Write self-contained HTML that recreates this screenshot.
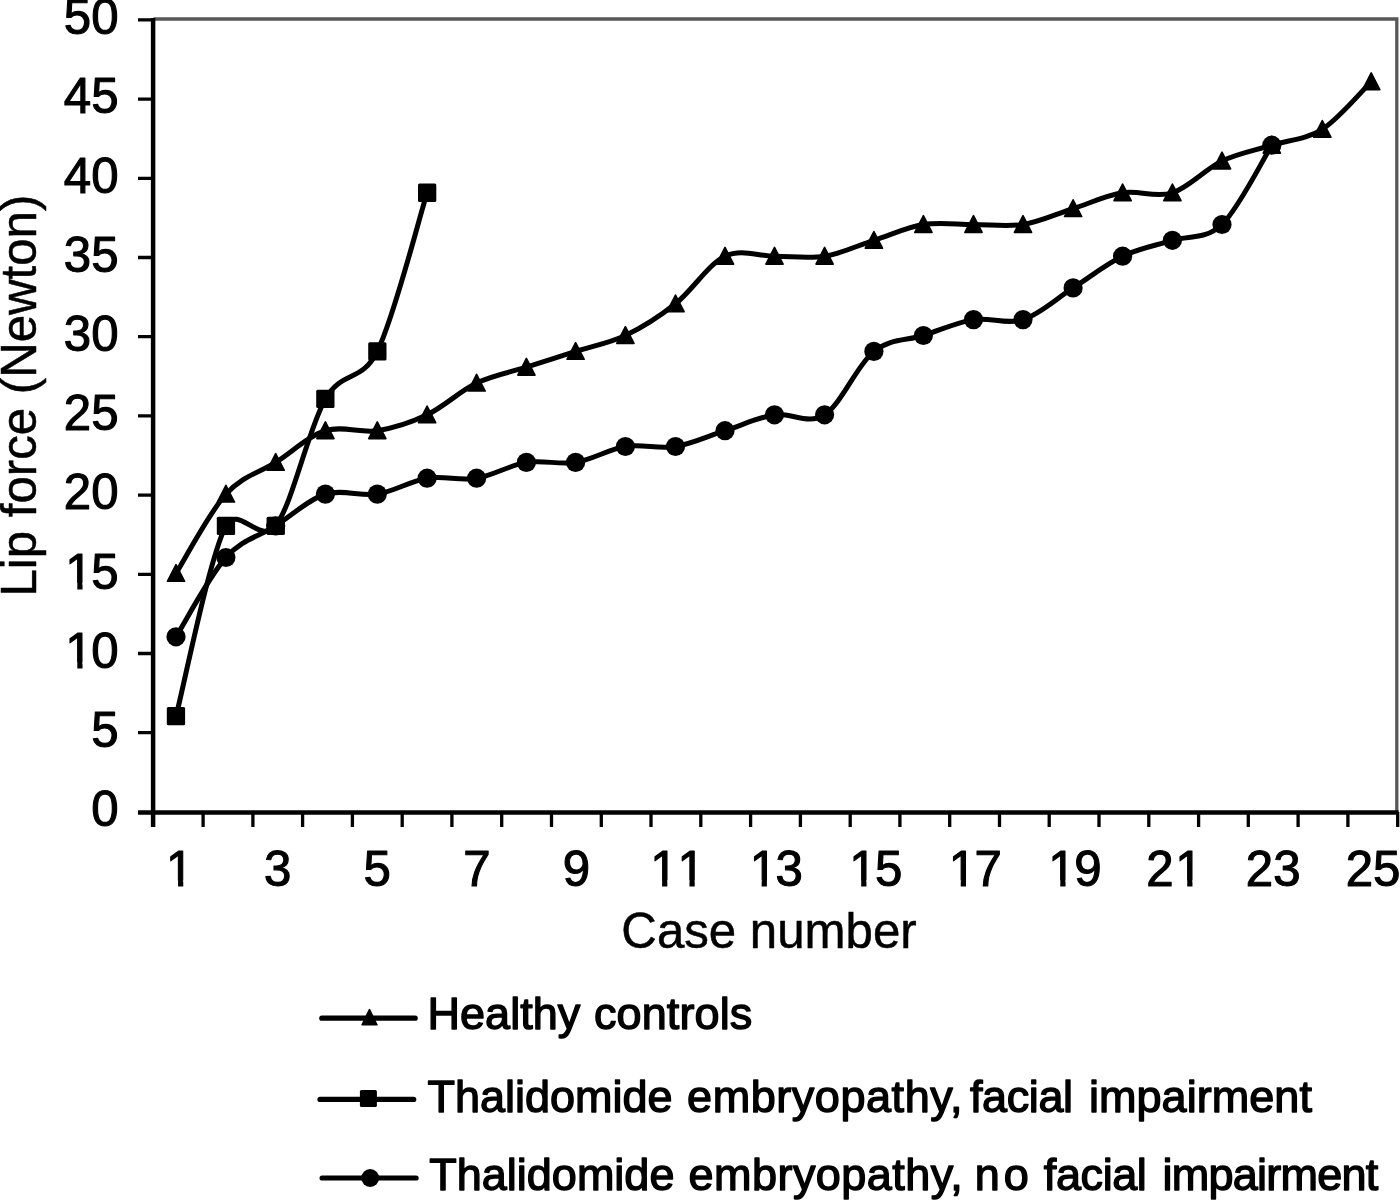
<!DOCTYPE html>
<html><head><meta charset="utf-8"><title>Lip force chart</title>
<style>html,body{margin:0;padding:0;background:#fff}svg{display:block}text{font-family:"Liberation Sans",Arial,Helvetica,sans-serif;fill:#000}</style></head><body>
<svg width="1400" height="1204" viewBox="0 0 1400 1204">
<rect width="1400" height="1204" fill="#fff"/>
<path d="M153.4 19H1396.8V812" fill="none" stroke="#585858" stroke-width="3.3"/>
<path d="M153.1 18V827" fill="none" stroke="#000" stroke-width="4.5"/>
<path d="M138 812.4H1398.5" fill="none" stroke="#000" stroke-width="4.5"/>
<path d="M138 732.7H153.4M138 653.5H153.4M138 574.3H153.4M138 495.1H153.4M138 415.9H153.4M138 336.7H153.4M138 257.5H153.4M138 178.3H153.4M138 99.1H153.4M138 19.9H153.4" fill="none" stroke="#000" stroke-width="3.3"/>
<path d="M203.1 812V827M252.9 812V827M302.6 812V827M352.4 812V827M402.2 812V827M451.9 812V827M501.7 812V827M551.5 812V827M601.3 812V827M651.0 812V827M700.8 812V827M750.6 812V827M800.4 812V827M850.2 812V827M899.9 812V827M949.7 812V827M999.5 812V827M1049.2 812V827M1099.0 812V827M1148.8 812V827M1198.6 812V827M1248.3 812V827M1298.1 812V827M1347.9 812V827M1397.7 812V827" fill="none" stroke="#000" stroke-width="3.3"/>
<g font-size="49.2" stroke="#000" stroke-width="1.1" stroke-linejoin="round">
<text x="91.14" y="826.2">0</text>
<text x="91.14" y="747.0">5</text>
<text x="65.37 91.14" y="667.8">10</text>
<text x="65.37 91.14" y="588.6">15</text>
<text x="63.77 91.14" y="509.4">20</text>
<text x="63.77 91.14" y="430.2">25</text>
<text x="63.77 91.14" y="351.0">30</text>
<text x="63.77 91.14" y="271.8">35</text>
<text x="63.77 91.14" y="192.6">40</text>
<text x="63.77 91.14" y="113.4">45</text>
<text x="63.77 91.14" y="34.2">50</text>
</g>
<g font-size="49.2" stroke="#000" stroke-width="1.1" stroke-linejoin="round">
<text x="166.11" y="886.0">1</text>
<text x="264.06" y="886.0">3</text>
<text x="363.61" y="886.0">5</text>
<text x="463.16" y="886.0">7</text>
<text x="562.71" y="886.0">9</text>
<text x="650.17 677.54" y="886.0">11</text>
<text x="749.72 775.49" y="886.0">13</text>
<text x="849.27 875.04" y="886.0">15</text>
<text x="948.82 974.59" y="886.0">17</text>
<text x="1048.37 1074.14" y="886.0">19</text>
<text x="1146.32 1175.29" y="886.0">21</text>
<text x="1245.87 1273.24" y="886.0">23</text>
<text x="1345.72 1373.09" y="886.0">25</text>
</g>
<g fill="#fff"><rect x="66.92" y="662.12" width="10.37" height="7.08"/><rect x="82.54" y="662.12" width="9.69" height="7.08"/><rect x="66.92" y="582.92" width="10.37" height="7.08"/><rect x="82.54" y="582.92" width="9.69" height="7.08"/><rect x="167.66" y="880.32" width="10.37" height="7.08"/><rect x="183.27" y="880.32" width="9.69" height="7.08"/><rect x="651.72" y="880.32" width="10.37" height="7.08"/><rect x="667.34" y="880.32" width="9.69" height="7.08"/><rect x="679.09" y="880.32" width="10.37" height="7.08"/><rect x="694.71" y="880.32" width="9.69" height="7.08"/><rect x="751.27" y="880.32" width="10.37" height="7.08"/><rect x="766.89" y="880.32" width="9.69" height="7.08"/><rect x="850.82" y="880.32" width="10.37" height="7.08"/><rect x="866.44" y="880.32" width="9.69" height="7.08"/><rect x="950.37" y="880.32" width="10.37" height="7.08"/><rect x="965.99" y="880.32" width="9.69" height="7.08"/><rect x="1049.92" y="880.32" width="10.37" height="7.08"/><rect x="1065.54" y="880.32" width="9.69" height="7.08"/><rect x="1176.84" y="880.32" width="10.37" height="7.08"/><rect x="1192.46" y="880.32" width="9.69" height="7.08"/></g>
<text x="769" y="947.5" font-size="49.2" stroke="#000" stroke-width="0.5" stroke-linejoin="round" text-anchor="middle">Case number</text>
<text transform="translate(36.3 395.6) rotate(-90)" font-size="49.2" stroke="#000" stroke-width="0.5" stroke-linejoin="round" text-anchor="middle">Lip force (Newton)</text>
<path d="M176.0 636.8 C184.3 623.6 209.3 576.0 225.9 557.5 C242.5 539.0 259.1 536.4 275.7 525.8 C292.3 515.2 308.5 499.4 325.4 494.1 C342.3 488.8 360.4 496.7 377.3 494.1 C394.2 491.5 410.6 480.9 427.1 478.2 C443.7 475.6 460.1 480.9 476.6 478.2 C493.2 475.6 509.9 465.0 526.4 462.4 C542.9 459.7 559.1 465.0 575.6 462.4 C592.1 459.7 608.8 449.2 625.4 446.5 C642.0 443.9 658.9 449.2 675.5 446.5 C692.1 443.9 708.5 435.9 725.0 430.7 C741.5 425.4 757.9 417.4 774.5 414.8 C791.1 412.2 808.0 425.4 824.6 414.8 C841.2 404.2 857.4 364.6 873.9 351.4 C890.4 338.1 906.8 340.8 923.4 335.5 C940.0 330.2 956.9 322.3 973.5 319.6 C990.1 317.0 1006.4 324.9 1023.0 319.6 C1039.6 314.4 1056.5 298.5 1073.1 287.9 C1089.7 277.3 1106.0 264.1 1122.6 256.2 C1139.1 248.3 1155.8 245.6 1172.4 240.3 C1189.0 235.1 1205.4 240.3 1222.0 224.5 C1238.6 208.6 1263.5 158.4 1271.8 145.2" fill="none" stroke="#000" stroke-width="5.0" stroke-linejoin="round" stroke-linecap="round"/>
<g fill="#000"><circle cx="176.0" cy="636.8" r="9.6"/><circle cx="225.9" cy="557.5" r="9.6"/><circle cx="275.7" cy="525.8" r="9.6"/><circle cx="325.4" cy="494.1" r="9.6"/><circle cx="377.3" cy="494.1" r="9.6"/><circle cx="427.1" cy="478.2" r="9.6"/><circle cx="476.6" cy="478.2" r="9.6"/><circle cx="526.4" cy="462.4" r="9.6"/><circle cx="575.6" cy="462.4" r="9.6"/><circle cx="625.4" cy="446.5" r="9.6"/><circle cx="675.5" cy="446.5" r="9.6"/><circle cx="725.0" cy="430.7" r="9.6"/><circle cx="774.5" cy="414.8" r="9.6"/><circle cx="824.6" cy="414.8" r="9.6"/><circle cx="873.9" cy="351.4" r="9.6"/><circle cx="923.4" cy="335.5" r="9.6"/><circle cx="973.5" cy="319.6" r="9.6"/><circle cx="1023.0" cy="319.6" r="9.6"/><circle cx="1073.1" cy="287.9" r="9.6"/><circle cx="1122.6" cy="256.2" r="9.6"/><circle cx="1172.4" cy="240.3" r="9.6"/><circle cx="1222.0" cy="224.5" r="9.6"/><circle cx="1271.8" cy="145.2" r="9.6"/></g>
<path d="M176.0 573.4 C184.3 560.2 209.3 512.6 225.9 494.1 C242.5 475.6 259.1 473.0 275.7 462.4 C292.3 451.8 308.5 435.9 325.4 430.7 C342.3 425.4 360.4 433.3 377.3 430.7 C394.2 428.0 410.6 422.7 427.1 414.8 C443.7 406.9 460.1 391.0 476.6 383.1 C493.2 375.1 509.9 372.5 526.4 367.2 C542.9 361.9 559.1 356.6 575.6 351.4 C592.1 346.1 608.8 343.4 625.4 335.5 C642.0 327.6 658.9 317.0 675.5 303.8 C692.1 290.6 708.5 264.1 725.0 256.2 C741.5 248.3 757.9 256.2 774.5 256.2 C791.1 256.2 808.0 258.8 824.6 256.2 C841.2 253.6 857.4 245.6 873.9 240.3 C890.4 235.1 906.8 227.1 923.4 224.5 C940.0 221.8 956.9 224.5 973.5 224.5 C990.1 224.5 1006.4 227.1 1023.0 224.5 C1039.6 221.8 1056.5 213.9 1073.1 208.6 C1089.7 203.3 1106.0 195.4 1122.6 192.8 C1139.1 190.1 1155.8 198.0 1172.4 192.8 C1189.0 187.5 1205.4 169.0 1222.0 161.0 C1238.6 153.1 1255.1 150.5 1271.8 145.2 C1288.5 139.9 1305.7 139.9 1322.3 129.3 C1338.9 118.7 1363.0 89.7 1371.2 81.7" fill="none" stroke="#000" stroke-width="5.0" stroke-linejoin="round" stroke-linecap="round"/>
<g fill="#000"><path d="M176.0 564.6 L184.6 581.3 L167.4 581.3Z" stroke="#000" stroke-width="1.6" stroke-linejoin="round"/><path d="M225.9 485.3 L234.5 502.0 L217.3 502.0Z" stroke="#000" stroke-width="1.6" stroke-linejoin="round"/><path d="M275.7 453.6 L284.3 470.3 L267.1 470.3Z" stroke="#000" stroke-width="1.6" stroke-linejoin="round"/><path d="M325.4 421.9 L334.0 438.6 L316.8 438.6Z" stroke="#000" stroke-width="1.6" stroke-linejoin="round"/><path d="M377.3 421.9 L385.9 438.6 L368.7 438.6Z" stroke="#000" stroke-width="1.6" stroke-linejoin="round"/><path d="M427.1 406.0 L435.7 422.7 L418.5 422.7Z" stroke="#000" stroke-width="1.6" stroke-linejoin="round"/><path d="M476.6 374.3 L485.2 391.0 L468.0 391.0Z" stroke="#000" stroke-width="1.6" stroke-linejoin="round"/><path d="M526.4 358.4 L535.0 375.1 L517.8 375.1Z" stroke="#000" stroke-width="1.6" stroke-linejoin="round"/><path d="M575.6 342.6 L584.2 359.3 L567.0 359.3Z" stroke="#000" stroke-width="1.6" stroke-linejoin="round"/><path d="M625.4 326.7 L634.0 343.4 L616.8 343.4Z" stroke="#000" stroke-width="1.6" stroke-linejoin="round"/><path d="M675.5 295.0 L684.1 311.7 L666.9 311.7Z" stroke="#000" stroke-width="1.6" stroke-linejoin="round"/><path d="M725.0 247.4 L733.6 264.1 L716.4 264.1Z" stroke="#000" stroke-width="1.6" stroke-linejoin="round"/><path d="M774.5 247.4 L783.1 264.1 L765.9 264.1Z" stroke="#000" stroke-width="1.6" stroke-linejoin="round"/><path d="M824.6 247.4 L833.2 264.1 L816.0 264.1Z" stroke="#000" stroke-width="1.6" stroke-linejoin="round"/><path d="M873.9 231.5 L882.5 248.2 L865.3 248.2Z" stroke="#000" stroke-width="1.6" stroke-linejoin="round"/><path d="M923.4 215.7 L932.0 232.4 L914.8 232.4Z" stroke="#000" stroke-width="1.6" stroke-linejoin="round"/><path d="M973.5 215.7 L982.1 232.4 L964.9 232.4Z" stroke="#000" stroke-width="1.6" stroke-linejoin="round"/><path d="M1023.0 215.7 L1031.6 232.4 L1014.4 232.4Z" stroke="#000" stroke-width="1.6" stroke-linejoin="round"/><path d="M1073.1 199.8 L1081.7 216.5 L1064.5 216.5Z" stroke="#000" stroke-width="1.6" stroke-linejoin="round"/><path d="M1122.6 184.0 L1131.2 200.7 L1114.0 200.7Z" stroke="#000" stroke-width="1.6" stroke-linejoin="round"/><path d="M1172.4 184.0 L1181.0 200.7 L1163.8 200.7Z" stroke="#000" stroke-width="1.6" stroke-linejoin="round"/><path d="M1222.0 152.2 L1230.6 168.9 L1213.4 168.9Z" stroke="#000" stroke-width="1.6" stroke-linejoin="round"/><path d="M1271.8 136.4 L1280.4 153.1 L1263.2 153.1Z" stroke="#000" stroke-width="1.6" stroke-linejoin="round"/><path d="M1322.3 120.5 L1330.9 137.2 L1313.7 137.2Z" stroke="#000" stroke-width="1.6" stroke-linejoin="round"/><path d="M1371.2 72.9 L1379.8 89.6 L1362.6 89.6Z" stroke="#000" stroke-width="1.6" stroke-linejoin="round"/></g>
<path d="M176.0 716.1 C184.3 684.4 209.3 557.5 225.9 525.8 C237.5 503.8 260.3 545.4 275.7 525.8 C292.3 504.7 308.5 428.0 325.4 398.9 C342.3 369.9 361.7 382.9 377.3 351.4 C394.2 317.0 418.8 219.2 427.1 192.8" fill="none" stroke="#000" stroke-width="5.0" stroke-linejoin="round" stroke-linecap="round"/>
<g fill="#000"><rect x="166.8" y="707.0" width="18.3" height="18.3" rx="1.5"/><rect x="216.8" y="516.7" width="18.3" height="18.3" rx="1.5"/><rect x="266.6" y="516.7" width="18.3" height="18.3" rx="1.5"/><rect x="316.2" y="389.8" width="18.3" height="18.3" rx="1.5"/><rect x="368.2" y="342.2" width="18.3" height="18.3" rx="1.5"/><rect x="418.0" y="183.6" width="18.3" height="18.3" rx="1.5"/></g>
<path d="M321.8 1018.2H415.2" stroke="#000" stroke-width="5.2" stroke-linecap="round" fill="none"/>
<g fill="#000"><path d="M369.5 1009.6 L376.9 1024.8 L362.1 1024.8Z" stroke="#000" stroke-width="1.6" stroke-linejoin="round"/></g>
<text y="1028.8" font-size="45" stroke="#000" stroke-width="1.4" stroke-linejoin="round"><tspan x="427.6">Healthy</tspan> <tspan x="594.0" letter-spacing="0.10">controls</tspan></text>
<path d="M320.0 1099.4H413.7" stroke="#000" stroke-width="5.2" stroke-linecap="round" fill="none"/>
<g fill="#000"><rect x="359.9" y="1089.9" width="17.0" height="17.0" rx="1.5"/></g>
<text y="1111.9" font-size="45" stroke="#000" stroke-width="1.4" stroke-linejoin="round"><tspan x="427.4">Thalidomide</tspan> <tspan x="687.1" letter-spacing="0.55">embryopathy,</tspan> <tspan x="970.0" letter-spacing="-0.40">facial</tspan> <tspan x="1088.9" letter-spacing="0.05">impairment</tspan></text>
<path d="M322.1 1178.0H416.1" stroke="#000" stroke-width="5.2" stroke-linecap="round" fill="none"/>
<g fill="#000"><circle cx="370.2" cy="1178.0" r="9.0"/></g>
<text y="1190.4" font-size="45" stroke="#000" stroke-width="1.4" stroke-linejoin="round"><tspan x="429.3">Thalidomide</tspan> <tspan x="688.6" letter-spacing="0.45">embryopathy,</tspan> <tspan x="974.7" letter-spacing="4.00">no</tspan> <tspan x="1043.8" letter-spacing="-0.40">facial</tspan> <tspan x="1162.4" letter-spacing="-0.74">impairment</tspan></text>
</svg></body></html>
